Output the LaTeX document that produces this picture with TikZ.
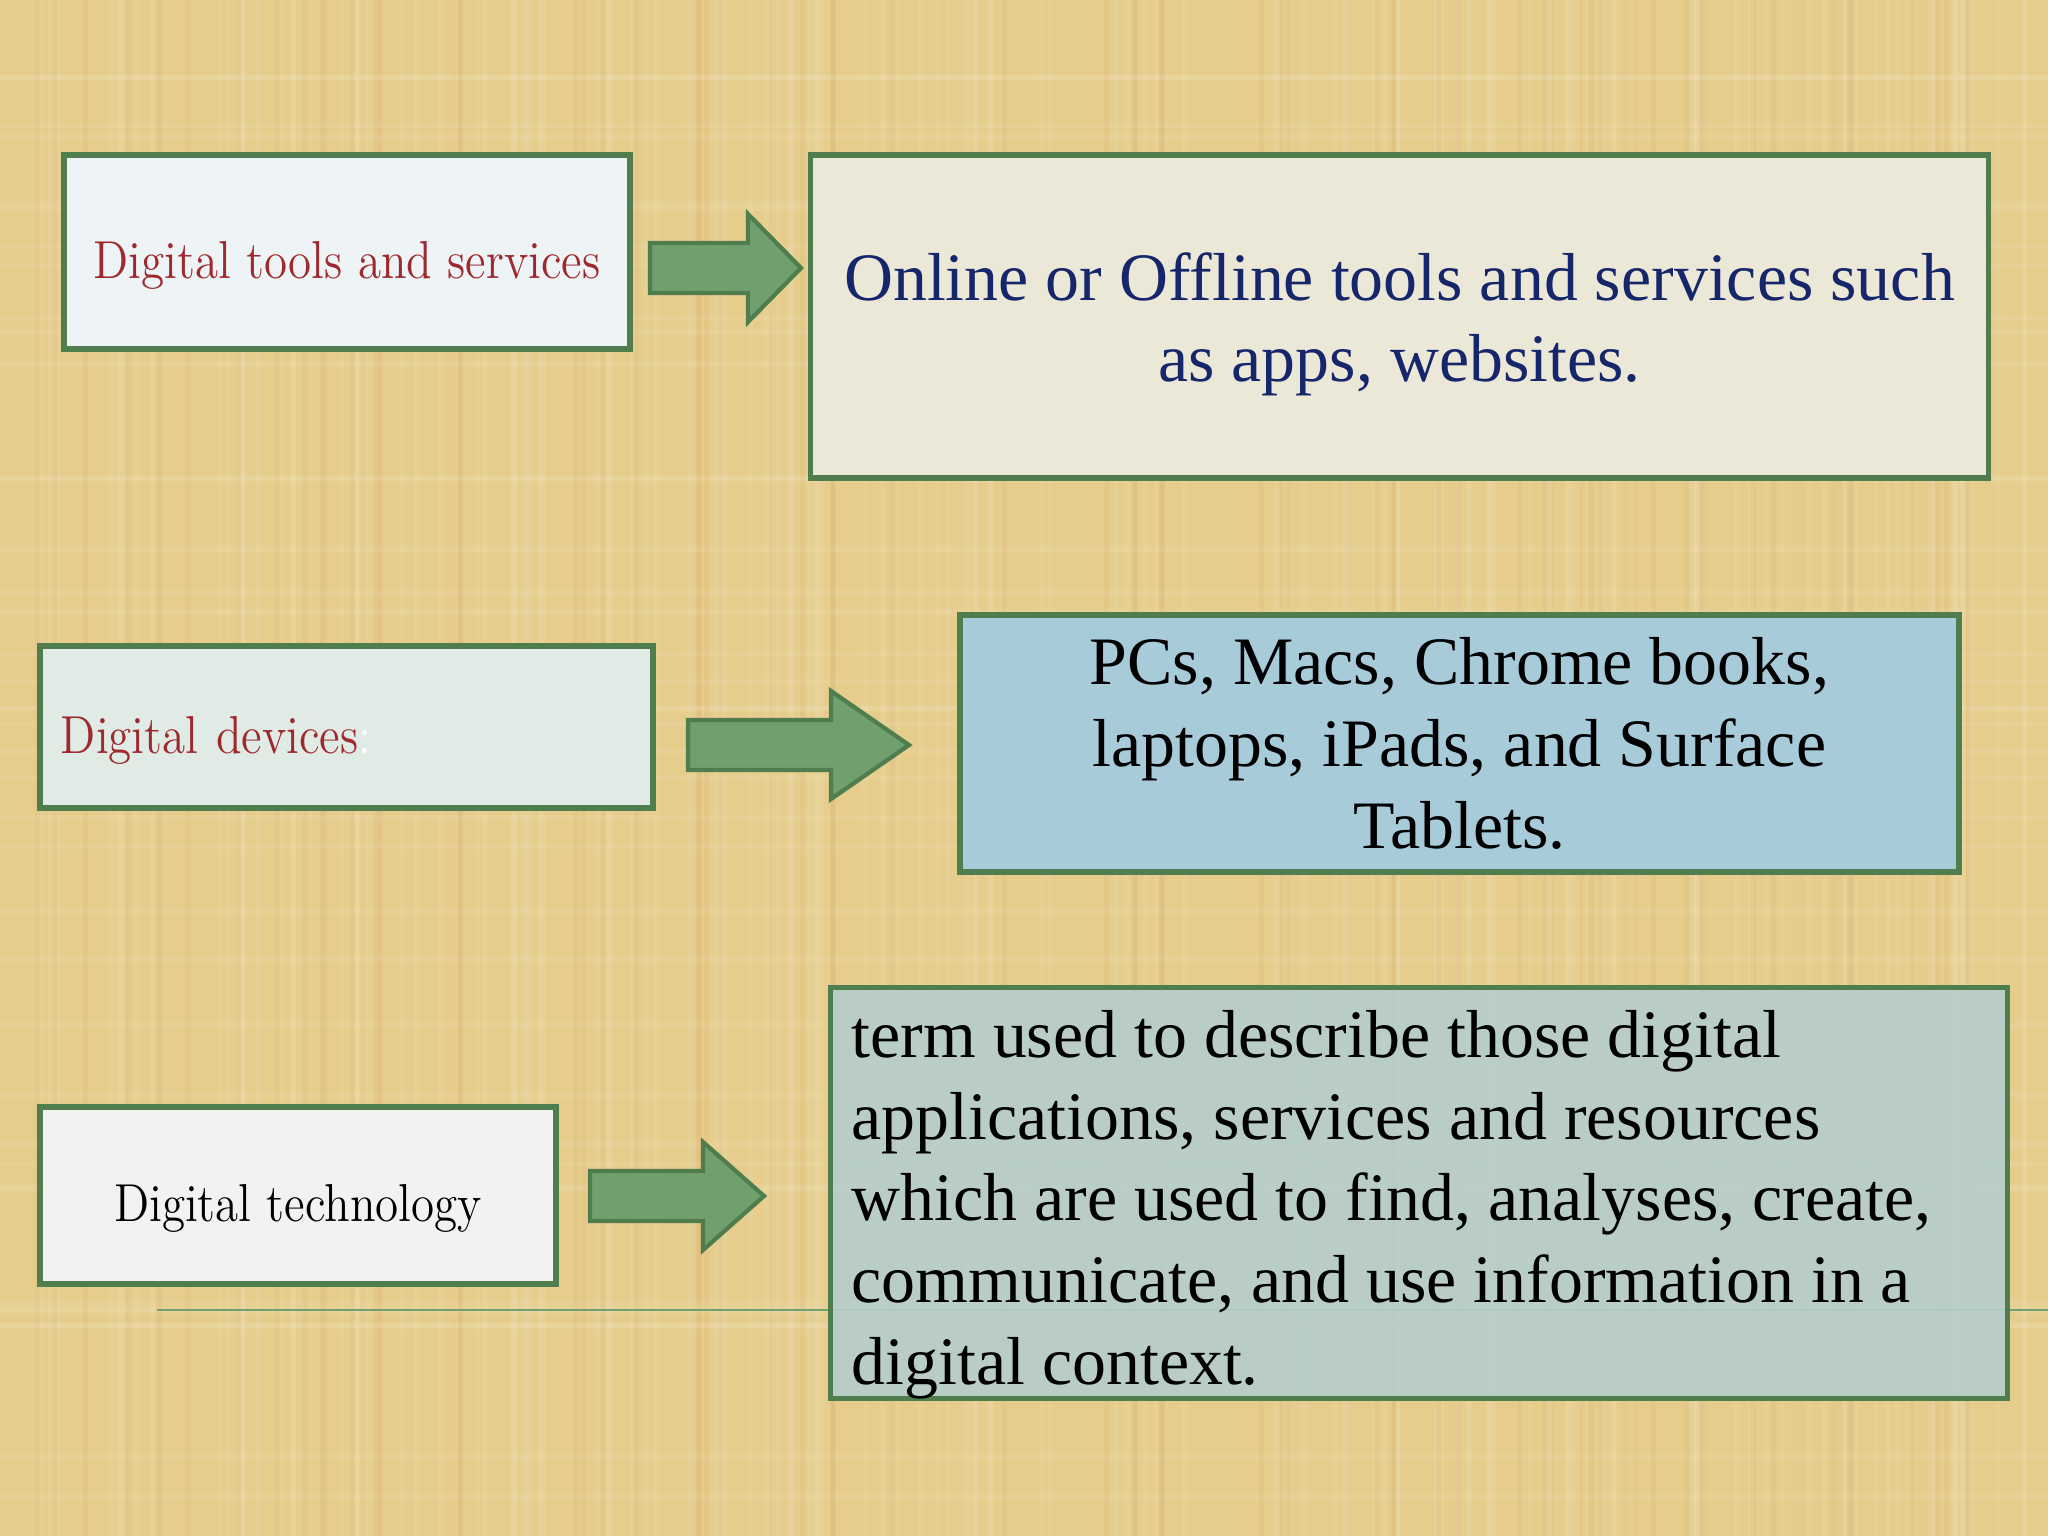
\documentclass[tikz,border=0pt]{standalone}
\usepackage{fontspec}
\newfontfamily\bodyfont{Liberation Serif}
\newfontfamily\labelfont[Extension=.otf,FakeStretch=0.88]{lmroman12-regular}
\usetikzlibrary{positioning}
\definecolor{bgsand}{RGB}{230,205,140}
\definecolor{boxline}{RGB}{79,125,78}
\definecolor{arrowfill}{RGB}{111,160,110}
\definecolor{labelred}{RGB}{158,42,47}
\definecolor{navytext}{RGB}{22,38,106}
\definecolor{fillone}{RGB}{238,243,246}
\definecolor{filltwo}{RGB}{236,232,216}
\definecolor{fillthree}{RGB}{225,235,229}
\definecolor{fillfour}{RGB}{168,203,218}
\definecolor{fillfive}{RGB}{242,242,240}
\definecolor{fillsix}{RGB}{181,206,203}
\tikzset{
  termbox/.style={draw=boxline, line width=1.6pt, inner sep=0pt, text height=14.8pt, text depth=0pt,
    font=\labelfont\fontsize{15.2}{18}\selectfont},
  infobox/.style={draw=boxline, line width=1.6pt, inner ysep=0pt, align=center,
    font=\bodyfont\fontsize{19.3}{23.2}\selectfont, execute at begin node={\spaceskip=0pt\xspaceskip=0pt}},
  blockarrow/.style={fill=arrowfill, draw=boxline, line width=1.2pt, line join=miter},
  weave/.style={line width=1.5pt, opacity=0.07}
}
\begin{document}
\begin{tikzpicture}[x=0.01cm,y=-0.01cm]
      \useasboundingbox (0,0) rectangle (2048,1536);
      \begin{scope}
        \clip (0,0) rectangle (2048,1536);
        \fill[bgsand] (0,0) rectangle (2048,1536);
        % woven background
        \pgfmathsetseed{7}
        \foreach \i in {1,...,140}
          \draw[weave, white] ({20+rnd*2008},0) -- ++(0,1536);
        \foreach \i in {1,...,70}
          \draw[weave, brown] ({20+rnd*2008},0) -- ++(0,1536);
        \foreach \i in {1,...,40}
          \draw[weave, white] (0,{20+rnd*1496}) -- ++(2048,0);
      \end{scope}
      \draw[arrowfill, line width=0.6pt] (157,1310) -- (2048,1310);
      % first row
      \node[termbox, fill=fillone, minimum width=5.66cm, minimum height=1.94cm, text=labelred] (tools) at (347,252) {Digital tools and services};
      \node[infobox, fill=filltwo, minimum width=11.77cm, minimum height=3.23cm, text=navytext] (toolsinfo) at (1399.5,316.5) {\rule{0pt}{18pt}Online or Offline tools and services such\\as apps, websites.};
      % second row
      \node[termbox, fill=fillthree, minimum width=6.13cm, minimum height=1.62cm, text width=5.71cm, inner xsep=0.21cm, align=left, text=labelred] (devices) at (346.5,727) {Digital devices\textcolor{white}{:}};
      \node[infobox, fill=fillfour, minimum width=9.99cm, minimum height=2.57cm] (devicesinfo) at (1459.5,743.5) {PCs, Macs, Chrome books,\\laptops, iPads, and Surface\\Tablets.};
      % third row
      \node[termbox, fill=fillfive, minimum width=5.16cm, minimum height=1.77cm] (technology) at (298,1195.5) {Digital technology};
      \node[infobox, fill=fillsix, fill opacity=0.9, text opacity=1, minimum width=11.76cm, minimum height=4.04cm, text width=11.34cm, inner xsep=0.21cm, align=left] (technologyinfo) at (1419,1193) {\rule{0pt}{20pt}term used to describe those digital\\applications, services and resources\\which are used to find, analyses, create,\\communicate, and use information in a\\digital context.};
      % block arrows
      \foreach \xa/\xb/\xc/\yc in {650/748/801/268, 688/831/909/745, 590/703/764/1196}
        \draw[blockarrow] (\xa,\yc-25) -- (\xb,\yc-25) -- (\xb,\yc-54) -- (\xc,\yc) -- (\xb,\yc+54) -- (\xb,\yc+25) -- (\xa,\yc+25) -- cycle;
\end{tikzpicture}
\end{document}
